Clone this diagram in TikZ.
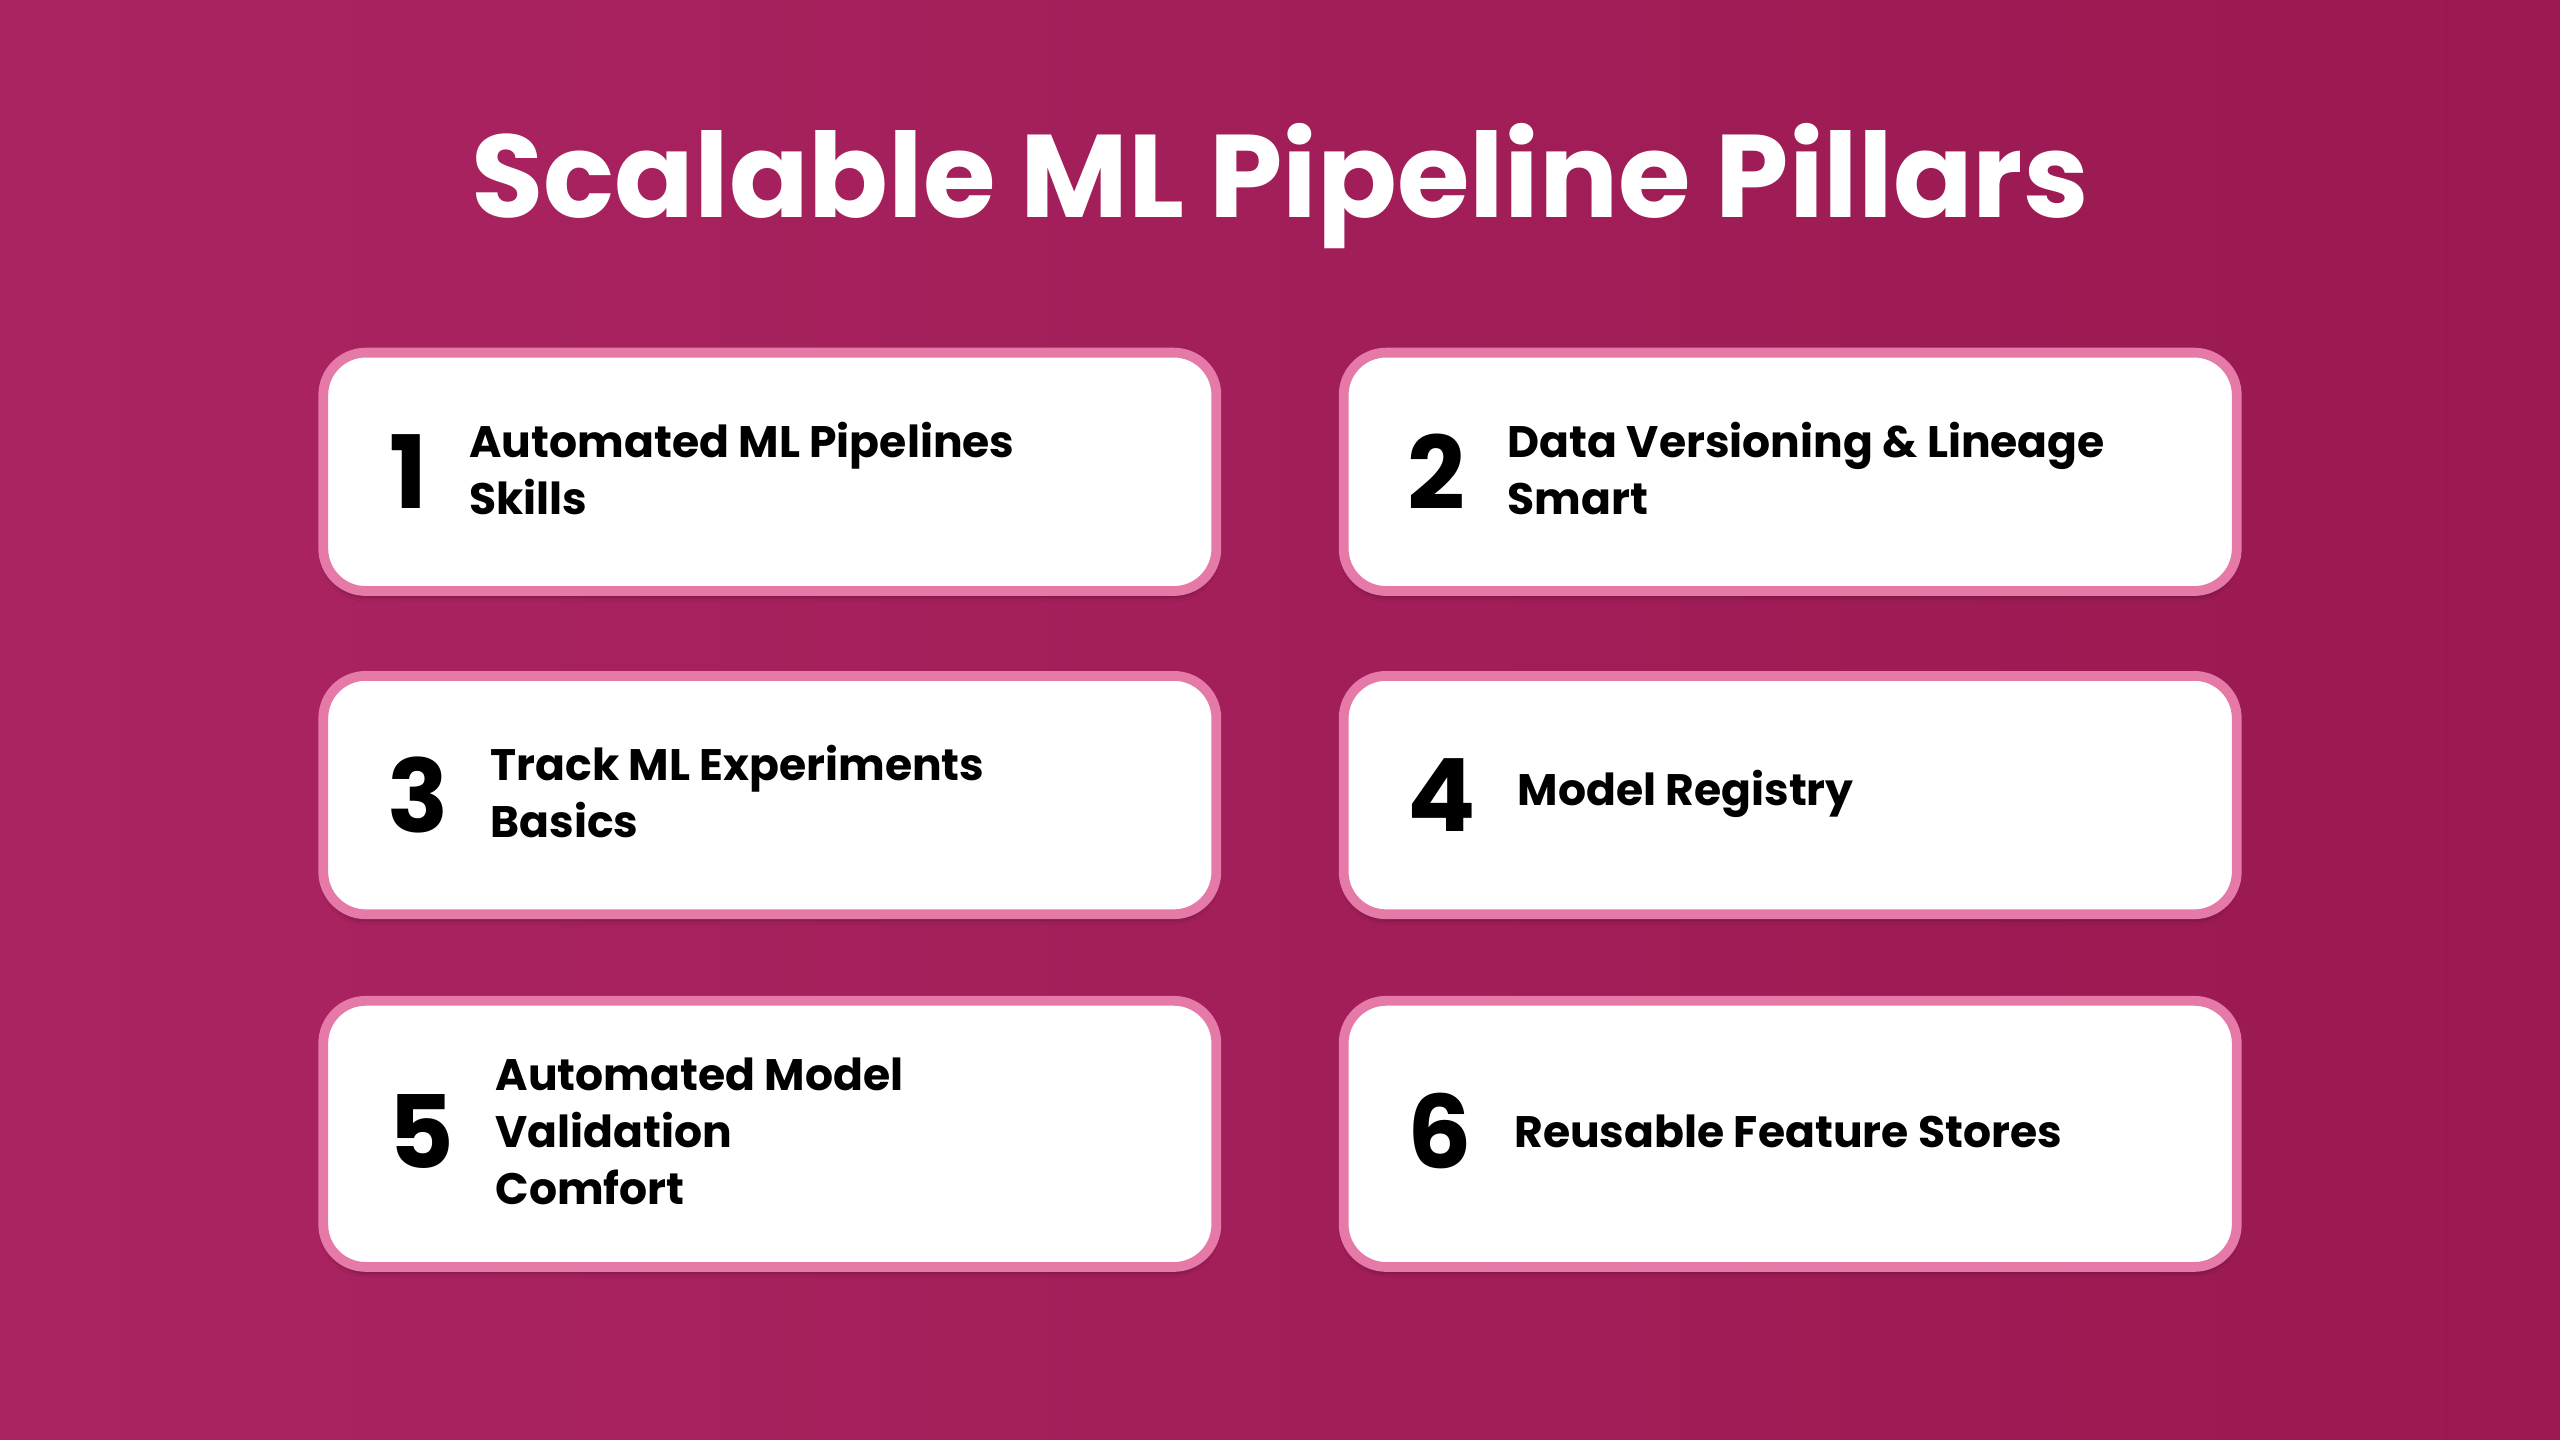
\documentclass[tikz,border=0pt]{standalone}
\usepackage{fontspec}
\setmainfont{Poppins}
\usetikzlibrary{shadows.blur}
\definecolor{bgA}{HTML}{AA2462}
\definecolor{bgB}{HTML}{9A1950}
\definecolor{pinkb}{HTML}{E57AA8}
\tikzset{
 card/.style={draw=pinkb, line width=6pt, fill=white, rounded corners=26pt, blur shadow={shadow xshift=0pt, shadow yshift=-4pt, shadow opacity=25}},
 num/.style={font=\fontsize{62}{62}\selectfont\bfseries, text=black},
 lbl/.style={anchor=west, align=left, font=\fontsize{27}{35}\selectfont\bfseries, text=black},
}
\begin{document}
\begin{tikzpicture}[x=1pt,y=1pt]
\shade[left color=bgA, right color=bgB] (0,0) rectangle (1568,882);
\useasboundingbox (0,0) rectangle (1568,882);
\node[text=white, font=\fontsize{72}{72}\selectfont\bfseries] (title) at (784,768) {Scalable ML Pipeline Pillars};
\node[card, minimum width=547pt, minimum height=146pt] (c1) at (471.5,593) {};
\node[card, minimum width=547pt, minimum height=146pt] (c2) at (1096.5,593) {};
\node[card, minimum width=547pt, minimum height=146pt] (c3) at (471.5,395) {};
\node[card, minimum width=547pt, minimum height=146pt] (c4) at (1096.5,395) {};
\node[card, minimum width=547pt, minimum height=163pt] (c5) at (471.5,187.5) {};
\node[card, minimum width=547pt, minimum height=163pt] (c6) at (1096.5,187.5) {};
\node[num] (n1) at (250,593) {1};
\node[num] (n2) at (880,593) {2};
\node[num] (n3) at (256,395) {3};
\node[num] (n4) at (883,395) {4};
\node[num] (n5) at (258,189) {5};
\node[num] (n6) at (882,189) {6};
\node[lbl] (t1) at (284,595) {Automated ML Pipelines\\Skills};
\node[lbl] (t2) at (920,595) {Data Versioning \& Lineage\\Smart};
\node[lbl] (t3) at (297,397) {Track ML Experiments\\Basics};
\node[lbl] (t4) at (926,396) {Model Registry};
\node[lbl] (t5) at (300,189) {Automated Model\\Validation\\Comfort};
\node[lbl] (t6) at (924,189) {Reusable Feature Stores};
\end{tikzpicture}
\end{document}
